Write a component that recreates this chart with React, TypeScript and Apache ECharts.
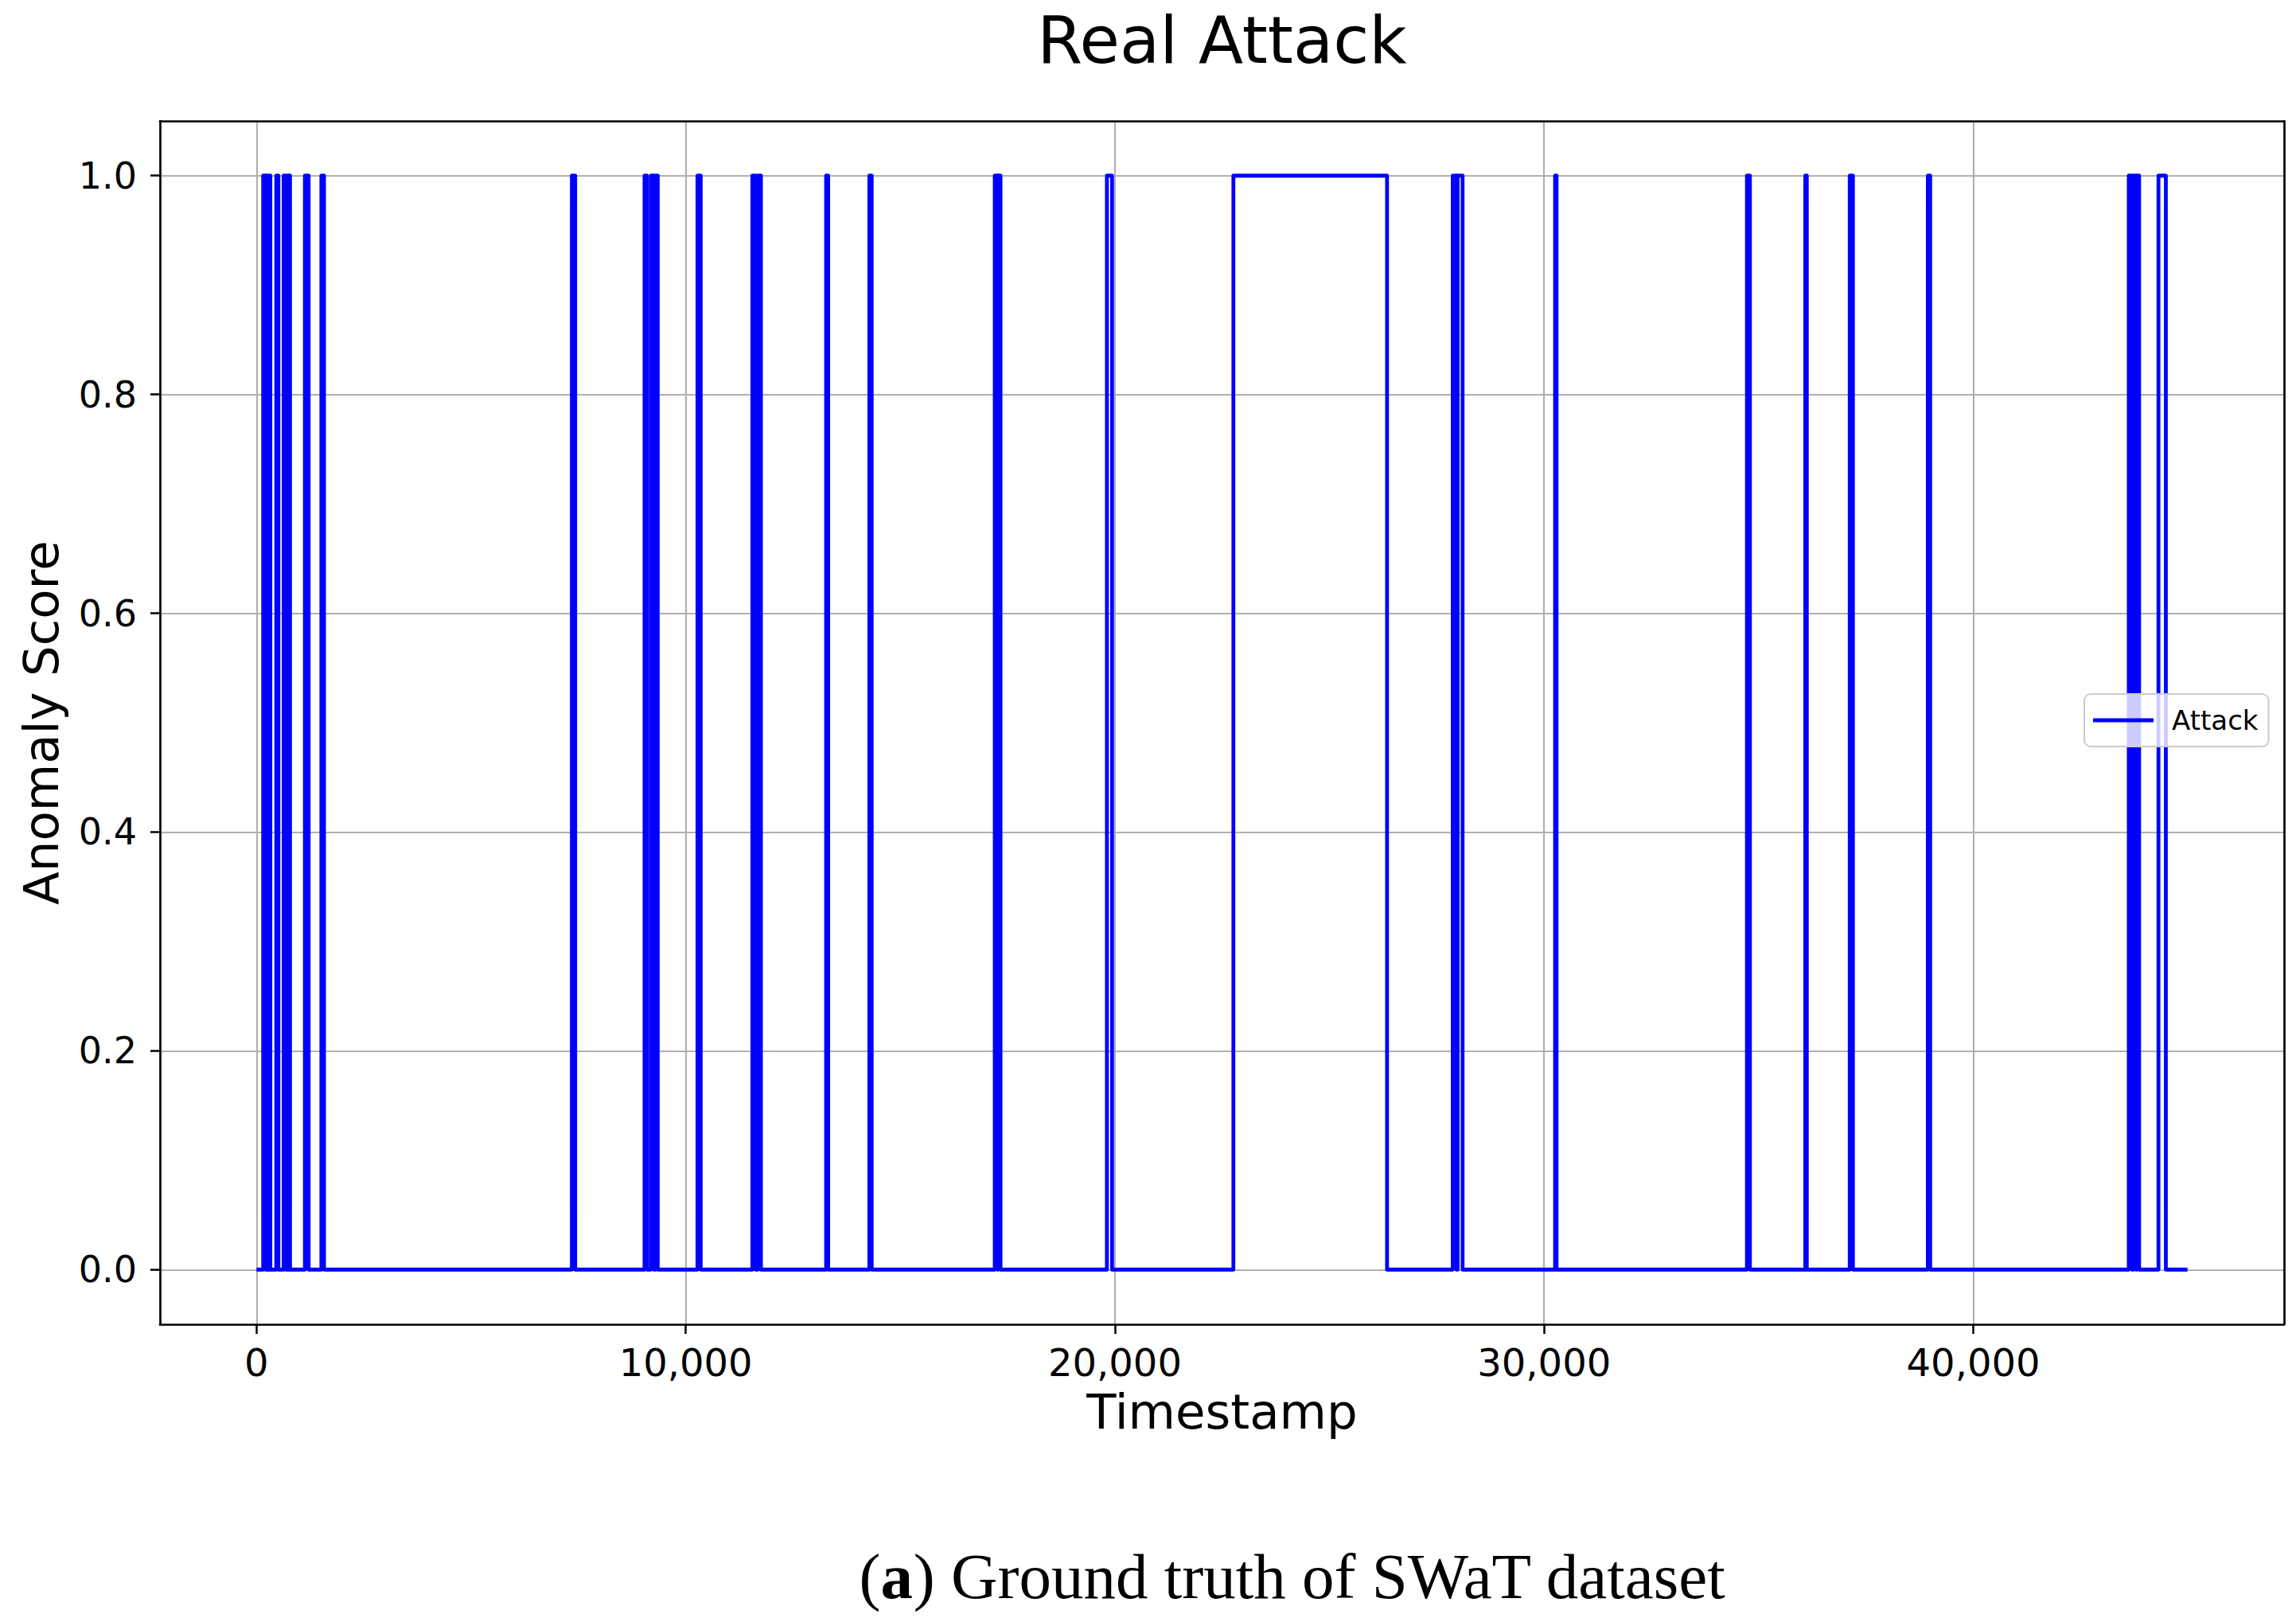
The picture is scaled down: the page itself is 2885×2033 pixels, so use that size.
import React, { useEffect, useRef } from 'react';
import * as echarts from 'echarts';

// ---- Data ----
const attackStarts = [155, 225, 300, 460, 632, 715, 755, 1127, 1511, 7347, 9040, 9188, 9290, 10274, 11553, 11680, 13271, 14278, 17200, 17280, 19813, 22760, 27870, 27985, 30255, 34725, 36085, 37120, 38940, 43622, 43730, 43810, 44314];
const attackEnds = [210, 262, 322, 510, 680, 740, 780, 1214, 1572, 7425, 9095, 9260, 9348, 10349, 11630, 11752, 13319, 14333, 17265, 17334, 19933, 26340, 27960, 28100, 30290, 34795, 36120, 37195, 38995, 43700, 43790, 43863, 44486];
const seriesStart = 0;
const seriesEnd = 44990;
const xTicks = [0, 10000, 20000, 30000, 40000];
const yTicks = [0, 0.2, 0.4, 0.6, 0.8, 1.0];
const xRange = [-2250, 47240];
const yRange = [-0.05, 1.05];
const seriesName = 'Attack';
const titleText = 'Real Attack';
const xName = 'Timestamp';
const yName = 'Anomaly Score';

function buildPoints(): number[][] {
  const pts: number[][] = [[seriesStart, 0]];
  attackStarts.forEach((s, i) => {
    const e = attackEnds[i];
    pts.push([s, 0], [s, 1], [e, 1], [e, 0]);
  });
  pts.push([seriesEnd, 0]);
  return pts;
}

const FONT = 'DejaVu Sans';
const W = 2885;
const H = 2033;
const GRID = { left: 201, right: 15, top: 152, bottom: 369 };

export default function App() {
  const ref = useRef<HTMLDivElement>(null);

  useEffect(() => {
    document.body.style.margin = '0';
    document.body.style.overflow = 'hidden';
    if (!ref.current) return;
    const chart = echarts.init(ref.current, null, { renderer: 'svg' });
    const frameLine = { color: '#000000', width: 2.7 };
    const plotCenterX = GRID.left + (W - GRID.left - GRID.right) / 2;
    const plotCenterY = GRID.top + (H - GRID.top - GRID.bottom) / 2;

    const option: any = {
      animation: false,
      backgroundColor: '#ffffff',
      textStyle: { fontFamily: FONT },
      grid: { ...GRID, containLabel: false, outerBoundsMode: 'none', show: false },
      legend: {
        show: true,
        data: [seriesName],
        left: 2619,
        top: 872,
        orient: 'horizontal',
        icon: 'rect',
        itemWidth: 76,
        itemHeight: 4.8,
        itemStyle: { borderWidth: 0 },
        padding: [16, 13, 16, 11],
        backgroundColor: 'rgba(255,255,255,0.8)',
        borderColor: '#cccccc',
        borderWidth: 2,
        borderRadius: 8,
        textStyle: { fontSize: 34, color: '#000000', fontFamily: FONT, padding: [0, 0, 0, 18] },
      },
      xAxis: [
        {
          type: 'value',
          position: 'bottom',
          min: xRange[0],
          max: xRange[1],
          axisLine: { show: true, onZero: false, lineStyle: frameLine },
          axisTick: { show: true, inside: false, length: 12, customValues: xTicks, lineStyle: { color: '#000', width: 2.5 } },
          axisLabel: {
            show: true,
            customValues: xTicks,
            formatter: (v: number) => Math.round(v).toLocaleString('en-US'),
            fontSize: 48,
            color: '#000000',
            fontFamily: FONT,
            margin: 24,
          },
          splitLine: { show: true, lineStyle: { color: '#b0b0b0', width: 2.2 } },
        },
        {
          type: 'value',
          position: 'top',
          min: xRange[0],
          max: xRange[1],
          axisLine: { show: true, onZero: false, lineStyle: frameLine },
          axisTick: { show: false },
          axisLabel: { show: false },
          splitLine: { show: false },
        },
      ],
      yAxis: [
        {
          type: 'value',
          position: 'left',
          min: yRange[0],
          max: yRange[1],
          axisLine: { show: true, onZero: false, lineStyle: frameLine },
          axisTick: { show: true, inside: false, length: 12, customValues: yTicks, lineStyle: { color: '#000', width: 2.5 } },
          axisLabel: {
            show: true,
            customValues: yTicks,
            formatter: (v: number) => v.toFixed(1),
            fontSize: 46,
            color: '#000000',
            fontFamily: FONT,
            margin: 29,
          },
          splitLine: { show: true, lineStyle: { color: '#b0b0b0', width: 2.2 } },
        },
        {
          type: 'value',
          position: 'right',
          min: yRange[0],
          max: yRange[1],
          axisLine: { show: true, onZero: false, lineStyle: frameLine },
          axisTick: { show: false },
          axisLabel: { show: false },
          splitLine: { show: false },
        },
      ],
      series: [
        {
          name: seriesName,
          type: 'line',
          xAxisIndex: 0,
          yAxisIndex: 0,
          data: buildPoints(),
          symbol: 'none',
          showSymbol: false,
          smooth: false,
          clip: true,
          lineStyle: { color: '#0000ff', width: 4.8, join: 'round' },
          itemStyle: { color: '#0000ff' },
          emphasis: { disabled: true },
        },
      ],
      graphic: [
        {
          type: 'text',
          x: plotCenterX,
          y: 50,
          style: { text: titleText, fontSize: 82, fontFamily: FONT, fill: '#000000', align: 'center', verticalAlign: 'middle' },
        },
        {
          type: 'text',
          x: plotCenterX,
          y: 1773,
          style: { text: xName, fontSize: 61, fontFamily: FONT, fill: '#000000', align: 'center', verticalAlign: 'middle' },
        },
        {
          type: 'text',
          x: 51,
          y: plotCenterY,
          rotation: Math.PI / 2,
          style: { text: yName, fontSize: 61, fontFamily: FONT, fill: '#000000', align: 'center', verticalAlign: 'middle' },
        },
        {
          type: 'text',
          x: 1624,
          y: 1981,
          style: {
            text: '({b|a}) Ground truth of SWaT dataset',
            fontSize: 81,
            fontFamily: 'Liberation Serif',
            fill: '#000000',
            align: 'center',
            verticalAlign: 'middle',
            rich: {
              b: { fontWeight: 'bold', fontSize: 81, fontFamily: 'Liberation Serif', fill: '#000000' },
            },
          },
        },
      ],
    };
    chart.setOption(option);
    return () => chart.dispose();
  }, []);

  return <div ref={ref} style={{ width: W + 'px', height: H + 'px' }} />;
}
